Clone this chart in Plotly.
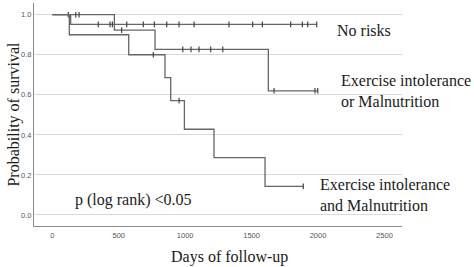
import plotly.graph_objects as go

# Step curves (day, survival)
no_risk_days = [0, 138, 1990]
no_risk_surv = [1.0, 0.952, 0.952]
no_risk_cens = [346, 434, 452, 560, 685, 768, 861, 954, 1067, 1330, 1508, 1581, 1794, 1882, 1922, 1990]

or_days = [0, 467, 773, 1626, 1998]
or_surv = [1.0, 0.923, 0.827, 0.62, 0.62]
or_cens = [120, 176, 201, 522, 982, 1044, 1104, 1192, 1283, 1669, 1977, 1998]

and_days = [0, 128, 575, 848, 891, 994, 1217, 1601, 1889]
and_surv = [1.0, 0.90, 0.80, 0.686, 0.571, 0.428, 0.286, 0.143, 0.143]
and_cens = [760, 954, 1889]

x_ticks = [0, 500, 1000, 1500, 2000, 2500]
y_ticks = [0.0, 0.2, 0.4, 0.6, 0.8, 1.0]

LINE = "#666666"
SERIF = "Liberation Serif, Times New Roman, serif"


def surv_at(days, surv, t):
    val = surv[0]
    for d, s in zip(days, surv):
        if d <= t:
            val = s
    return val


fig = go.Figure()
for days, surv, cens in [(no_risk_days, no_risk_surv, no_risk_cens),
                         (or_days, or_surv, or_cens),
                         (and_days, and_surv, and_cens)]:
    fig.add_trace(go.Scatter(x=days, y=surv, mode="lines", line_shape="hv",
                             line=dict(color=LINE, width=1.3), showlegend=False,
                             hoverinfo="skip"))
    fig.add_trace(go.Scatter(x=cens, y=[surv_at(days, surv, c) for c in cens],
                             mode="markers",
                             marker=dict(symbol="line-ns", size=4,
                                         line=dict(color="#444", width=1.2)),
                             showlegend=False, hoverinfo="skip"))

ann_font = dict(family=SERIF, size=16, color="#1a1a1a")
fig.add_annotation(x=2128, y=0.9235, text="No risks", showarrow=False,
                   xanchor="left", yanchor="middle", font=ann_font)
fig.add_annotation(x=2158, y=0.6185, text="Exercise intolerance<br>or Malnutrition",
                   showarrow=False, xanchor="left", yanchor="middle", align="left",
                   font=ann_font)
fig.add_annotation(x=2000, y=0.0985, text="Exercise intolerance<br>and Malnutrition",
                   showarrow=False, xanchor="left", yanchor="middle", align="left",
                   font=ann_font)
fig.add_annotation(x=156, y=0.0735, text="p (log rank) <0.05", showarrow=False,
                   xanchor="left", yanchor="middle", font=ann_font)
fig.add_annotation(xref="paper", yref="paper", x=-0.057, y=0.5,
                   text="Probability of survival", textangle=-90, showarrow=False,
                   xanchor="center", yanchor="middle", font=ann_font)
fig.add_annotation(xref="paper", yref="paper", x=(229.5 - 34) / 368, y=-0.1405,
                   text="Days of follow-up", showarrow=False,
                   xanchor="center", yanchor="middle", font=ann_font)

tick_font = dict(family="Liberation Sans, Arial, sans-serif", size=7.5, color="#555")
fig.update_xaxes(range=[-138, 2632], tickvals=x_ticks,
                 ticktext=[str(v) for v in x_ticks], showgrid=False,
                 showline=True, linecolor="#8c8c8c", linewidth=1.2, ticks="",
                 tickfont=tick_font, zeroline=False, ticklabelstandoff=2)
fig.update_yaxes(range=[-0.055, 1.0585], tickvals=y_ticks,
                 ticktext=[f"{v:.1f}" for v in y_ticks], showgrid=True,
                 gridcolor="#d9d9d9", gridwidth=1, showline=True,
                 linecolor="#8c8c8c", linewidth=1.2, ticks="",
                 tickfont=tick_font, zeroline=False)
fig.update_layout(width=474, height=267, autosize=False,
                  margin=dict(l=34, r=72, t=3, b=41),
                  plot_bgcolor="white", paper_bgcolor="white")

fig.write_html("out.html")
